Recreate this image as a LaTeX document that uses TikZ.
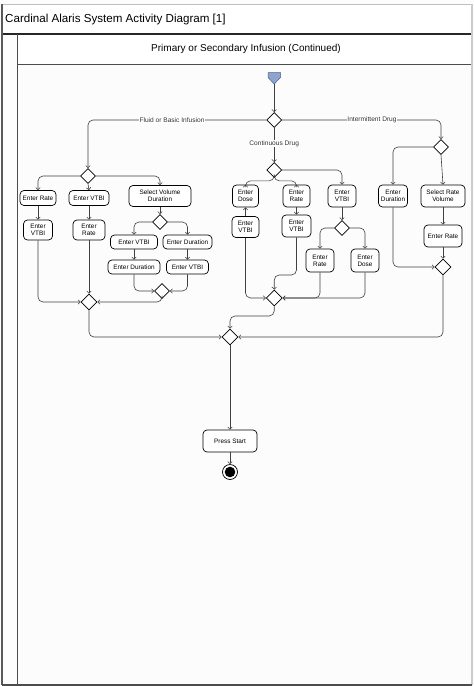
\documentclass[tikz,border=0pt]{standalone}
\usepackage{fontspec}
\setmainfont{Liberation Sans}
\usetikzlibrary{shapes.geometric,arrows.meta}
\definecolor{startblue}{HTML}{8EA4CC}
\definecolor{startedge}{HTML}{4A6390}
\tikzset{
  act/.style={draw=black, line width=0.7pt, rounded corners=4pt, fill=white, align=center,
    font=\fontsize{6.4}{7.2}\selectfont, inner sep=0.5pt},
  dec/.style={diamond, draw=black, line width=0.7pt, fill=white, minimum width=15pt, minimum height=15pt, inner sep=0pt},
  flow/.style={draw=black!75, line width=0.6pt, rounded corners=5pt, -{Straight Barb[length=2.2pt,width=4.5pt]}},
  lbl/.style={font=\fontsize{6.6}{7}\selectfont, fill=white, inner sep=0.8pt, text=black!80},
}
\begin{document}
\begin{tikzpicture}[x=1pt,y=-1pt]
\useasboundingbox (0,0) rectangle (474,686);
% frame
\fill[black!1] (0,0) rectangle (474,686);
\fill[white] (3,4) rectangle (471,34);
\fill[white] (17,34) rectangle (471,64);
\draw[black!25, line width=0.8pt] (3,4) -- (471,4);
\draw[black!20, line width=2pt] (472,4) -- (472,685);
\draw[black!65, line width=2pt] (2,4) -- (2,685);
\draw[black!70, line width=1.2pt] (2,685) -- (472,685);
\draw[black!85, line width=1.4pt] (3,34) -- (471,34);
\draw[black!70, line width=1pt] (17,34) -- (17,684);
\draw[black!70, line width=0.9pt] (17,64) -- (471,64);
\node[anchor=west, font=\fontsize{11.6}{13}\selectfont, inner sep=0pt] (title) at (5,19) {Cardinal Alaris System Activity Diagram [1]};
\node[font=\fontsize{10}{11}\selectfont, inner sep=0pt] (header) at (246,49) {Primary or Secondary Infusion (Continued)};
% start
\fill[startblue, draw=startedge, line width=0.5pt] (268,72.5) -- (280.5,72.5) -- (280.5,77.5) -- (274.2,84) -- (268,77.5) -- cycle;
\coordinate (st) at (274.2,84);
% decisions
\node[dec] (D1) at (274.2,120) {};
\node[dec] (D2) at (88,176) {};
\node[dec] (D3) at (441,147) {};
\node[dec] (D4) at (274.2,170) {};
\node[dec] (D5) at (342,228) {};
\node[dec, minimum width=16pt, minimum height=16pt] (D6) at (274.2,298) {};
\node[dec] (D10) at (160,222) {};
\node[dec] (D11) at (162,291) {};
\node[dec, minimum width=16pt, minimum height=16pt] (D8) at (89,302) {};
\node[dec, minimum width=16pt, minimum height=16pt] (D9) at (443,267) {};
\node[dec, minimum width=16pt, minimum height=16pt] (D7) at (230,337) {};
% continuous drug
\node[act, minimum width=26pt, minimum height=22pt] (cDose) at (245.5,196) {Enter\\Dose};
\node[act, minimum width=27pt, minimum height=22pt] (cRate) at (296.5,196) {Enter\\Rate};
\node[act, minimum width=28pt, minimum height=22pt] (cVTBI) at (342,196) {Enter\\VTBI};
\node[act, minimum width=27pt, minimum height=21pt] (cVTBI1) at (245.5,227) {Enter\\VTBI};
\node[act, minimum width=29pt, minimum height=22pt] (cVTBI2) at (296.5,226) {Enter\\VTBI};
\node[act, minimum width=28pt, minimum height=23pt] (cRate2) at (320,260.5) {Enter\\Rate};
\node[act, minimum width=28pt, minimum height=23pt] (cDose2) at (365,260.5) {Enter\\Dose};
% fluid
\node[act, minimum width=36pt, minimum height=15pt] (fRate) at (38,198) {Enter Rate};
\node[act, minimum width=40pt, minimum height=15pt] (fVTBI) at (89,198) {Enter VTBI};
\node[act, minimum width=62pt, minimum height=21pt] (fSel) at (160,196) {Select Volume\\Duration};
\node[act, minimum width=29pt, minimum height=20pt] (fVTBI2) at (38,230) {Enter\\VTBI};
\node[act, minimum width=32pt, minimum height=20pt] (fRate2) at (89,230) {Enter\\Rate};
\node[act, minimum width=47pt, minimum height=14pt] (fVTBI3) at (134,242) {Enter VTBI};
\node[act, minimum width=49pt, minimum height=14pt] (fDur) at (187.5,242) {Enter Duration};
\node[act, minimum width=52pt, minimum height=14pt] (fDur2) at (134,267) {Enter Duration};
\node[act, minimum width=42pt, minimum height=14pt] (fVTBI4) at (187.5,267) {Enter VTBI};
% intermittent
\node[act, minimum width=29pt, minimum height=22pt] (iDur) at (393,196) {Enter\\Duration};
\node[act, minimum width=44pt, minimum height=22pt] (iSel) at (443,196) {Select Rate\\Volume};
\node[act, minimum width=38pt, minimum height=22pt] (iRate) at (443,236) {Enter Rate};
% end
\node[act, minimum width=54pt, minimum height=22pt] (press) at (230,441) {Press Start};
\node[circle, draw=black, line width=0.7pt, fill=white, minimum size=15pt, inner sep=0pt] (end) at (230,472) {};
\fill[black] (end.center) circle (5.3pt);
% connectors
\draw[flow] (st) -- (D1.north);
\draw[flow] (D1.west) -| (D2.north);
\draw[flow] (D1.east) -| (D3.north);
\draw[flow] (D1.south) -- (D4.north);
\node[lbl] (l1) at (172,120) {Fluid or Basic Infusion};
\node[lbl] (l2) at (372,120) {Intermittent Drug};
\node[lbl] (l3) at (274.2,143.5) {Continuous Drug};
% continuous
\draw[flow] (D4.south) -- ++(0,3) -| (cDose.north);
\draw[flow] (D4.south) -- ++(0,3) -| (cRate.north);
\draw[flow] (D4.east) -| (cVTBI.north);
\draw[flow] (cVTBI1.north) -- (cDose.south);
\draw[flow] (cRate.south) -- (cVTBI2.north);
\draw[flow] (cVTBI.south) -- (D5.north);
\draw[flow] (D5.west) -| (cRate2.north);
\draw[flow] (D5.east) -| (cDose2.north);
\draw[flow] (cVTBI1.south) |- (D6.west);
\draw[flow] (cVTBI2.south) -- (296.5,275) -| (D6.north);
\draw[flow] (cRate2.south) |- (D6.east);
\draw[flow] (cDose2.south) |- (D6.east);
\draw[flow] (D6.south) -- (274.2,316) -| (D7.north);
% fluid
\draw[flow] (D2.west) -| (fRate.north);
\draw[flow] (D2.south) -- (fVTBI.north);
\draw[flow] (D2.east) -| (fSel.north);
\draw[flow] (fRate.south) -- (fVTBI2.north);
\draw[flow] (fVTBI.south) -- (fRate2.north);
\draw[flow] (fSel.south) -- (D10.north);
\draw[flow] (D10.west) -| (fVTBI3.north);
\draw[flow] (D10.east) -| (fDur.north);
\draw[flow] (fVTBI3.south) -- (fDur2.north);
\draw[flow] (fDur.south) -- (fVTBI4.north);
\draw[flow] (fDur2.south) |- (D11.west);
\draw[flow] (fVTBI4.south) |- (D11.east);
\draw[flow] (D11.south) |- (D8.east);
\draw[flow] (fVTBI2.south) |- (D8.west);
\draw[flow] (fRate2.south) -- (D8.north);
\draw[flow] (D8.south) |- (D7.west);
% intermittent
\draw[flow] (D3.west) -| (iDur.north);
\draw[flow] (D3.south) -- (iSel.north);
\draw[flow] (iSel.south) -- (iRate.north);
\draw[flow] (iDur.south) |- (D9.west);
\draw[flow] (iRate.south) -- (D9.north);
\draw[flow] (D9.south) |- (D7.east);
% final
\draw[flow] (D7.south) -- (press.north);
\draw[flow] (press.south) -- (end.north);
\end{tikzpicture}
\end{document}
